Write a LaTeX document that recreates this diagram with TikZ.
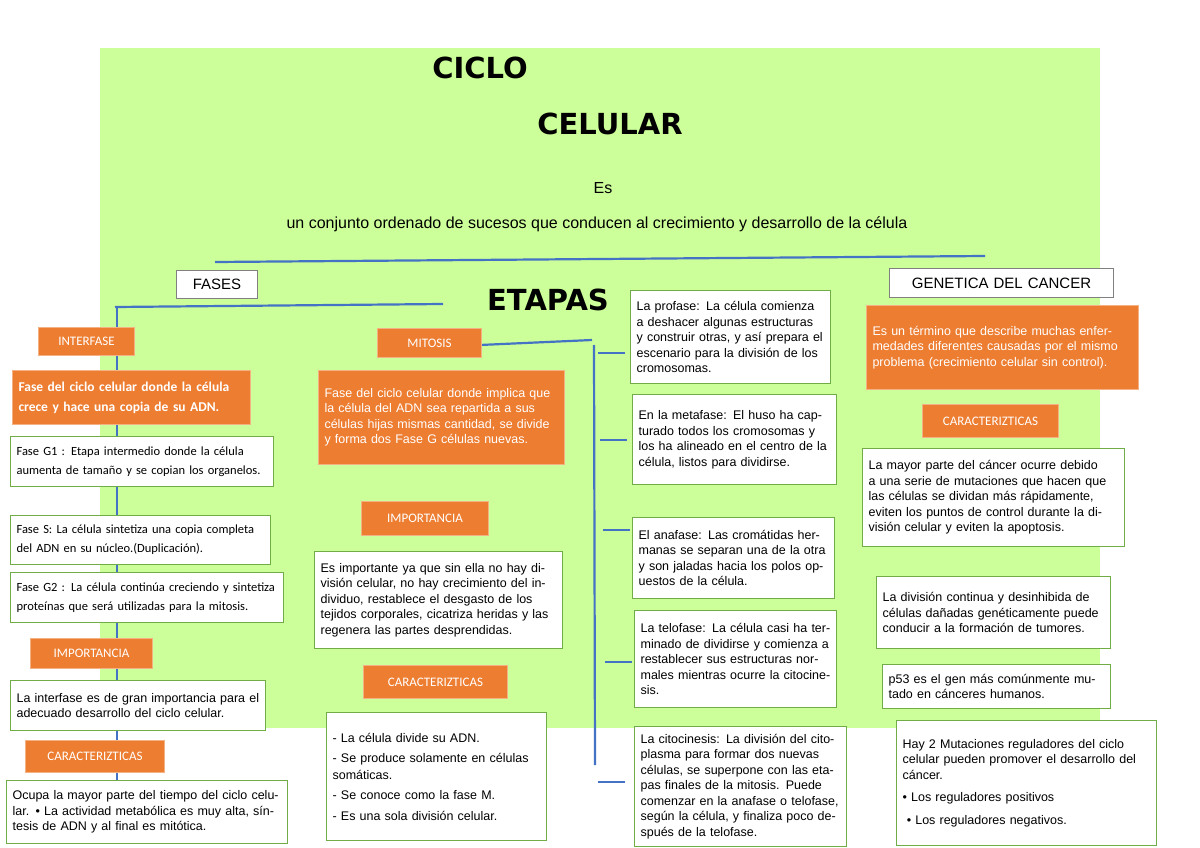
\documentclass[tikz,border=0pt]{standalone}
\usepackage{fontspec}
\setmainfont{Liberation Sans}
\newfontfamily\calf{Carlito}
\newfontfamily\heavy{DejaVu Sans}
\definecolor{bg}{HTML}{CCFF99}
\definecolor{bl}{HTML}{4472C4}
\definecolor{orn}{HTML}{ED7D31}
\definecolor{grn}{HTML}{70AD47}
\newcommand{\bx}[7]{\node[#2,anchor=north west,text width=#5pt-12pt,minimum height=#6pt,inner sep=6pt] (#1) at (#3,#4) {\hyphenpenalty=10000\exhyphenpenalty=10000 #7};}
\tikzset{
 wb/.style={draw=grn,line width=1.2pt,fill=white,align=left,font=\fontsize{12.5}{15.5}\selectfont},
 wbc/.style={wb,font=\calf\fontsize{12.5}{19}\selectfont},
 ob/.style={draw=orn!60,line width=1pt,fill=orn,text=white,align=left,font=\fontsize{12.5}{15.5}\selectfont},
 lab/.style={draw=orn!60,line width=1pt,fill=orn,text=white,align=center,font=\calf\fontsize{13}{15}\selectfont},
 gb/.style={draw=gray,line width=1pt,fill=white,align=center,font=\fontsize{15}{17}\selectfont},
 bline/.style={draw=bl,line width=2.2pt},
 ttl/.style={font=\heavy\fontsize{29}{34}\bfseries\selectfont}
}
\begin{document}
\begin{tikzpicture}[x=1pt,y=-1pt]
\useasboundingbox (0,0) rectangle (1200,848);
\fill[white] (0,0) rectangle (1200,848);
\fill[bg] (100,48) rectangle (1100,728);
\node[ttl] (t1) at (480,68) {CICLO};
\node[ttl] (t2) at (610,124) {CELULAR};
\node[ttl] (t3) at (548,300) {ETAPAS};
\node[font=\fontsize{16}{19}\selectfont] (es) at (603,188) {Es};
\node[font=\fontsize{16}{19}\selectfont] (def) at (597,224) {un conjunto ordenado de sucesos que conducen al crecimiento y desarrollo de la célula};
\coordinate (h1) at (215,262); \coordinate (h2) at (985,256);
\draw[bline] (h1) -- (h2);
% left spine
\coordinate (l0) at (115,307); \coordinate (l1) at (443,304); \coordinate (l2) at (117,307); \coordinate (l3) at (117,790);
\draw[bline] (l0) -- (l1);
\draw[bline] (l2) -- (l3);
% middle spine
\coordinate (m0) at (480,345); \coordinate (m1) at (592,340); \coordinate (m2) at (594,345); \coordinate (m3) at (595,765);
\draw[bline] (m0) -- (m1);
\draw[bline] (m2) -- (m3);
\foreach \y/\xa in {353/598,440/600,530/603,662/605,782/598}{
 \coordinate (ta\y) at (\xa,\y); \coordinate (tb\y) at (\xa+27,\y);
 \draw[bline] (ta\y) -- (tb\y);}
\bx{fases}{gb}{176}{270}{81}{28}{FASES}
\bx{gen}{gb}{889}{268}{224}{29}{GENETICA DEL CANCER}
% left column
\bx{inter}{lab}{38}{327}{96}{28}{INTERFASE}
\bx{fdef}{ob,font=\calf\bfseries\fontsize{13.5}{20}\selectfont}{12}{370}{238}{54}{Fase del ciclo celular donde la célula crece y hace una copia de su ADN.}
\bx{g1}{wbc}{10}{436}{263}{50}{Fase G1 : Etapa intermedio donde la célula aumenta de tamaño y se copian los organelos.}
\bx{s}{wbc}{10}{515}{260}{49}{Fase S: La célula sintetiza una copia completa del ADN en su núcleo.(Duplicación).}
\bx{g2}{wbc}{10}{572}{273}{50}{Fase G2 : La célula continúa creciendo y sintetiza proteínas que será utilizadas para la mitosis.}
\bx{imp1}{lab}{30}{638}{122}{30}{IMPORTANCIA}
\bx{impt1}{wb}{10}{680}{255}{50}{La interfase es de gran importancia para el adecuado desarrollo del ciclo celular.}
\bx{car1}{lab}{25}{740}{139}{32}{CARACTERIZTICAS}
\bx{cart1}{wb}{6}{780}{281}{63}{Ocupa la mayor parte del tiempo del ciclo celular. • La actividad metabólica es muy alta, síntesis de ADN y al final es mitótica.}
% middle column
\bx{mit}{lab}{377}{328}{104}{29}{MITOSIS}
\bx{mdef}{ob}{318}{370}{246}{94}{Fase del ciclo celular donde  implica que la célula del ADN sea repartida a sus células hijas mismas cantidad, se divide y forma dos Fase G células nuevas.}
\bx{imp2}{lab}{361}{501}{127}{34}{IMPORTANCIA}
\bx{impt2}{wb}{314}{551}{248}{97}{Es importante ya que sin ella no hay división celular, no hay crecimiento del individuo, restablece el desgasto de los tejidos corporales, cicatriza heridas y las regenera las partes desprendidas.}
\bx{car2}{lab}{363}{665}{144}{33}{CARACTERIZTICAS}
\bx{cart2}{wb,font=\fontsize{12.5}{16.5}\selectfont}{326}{712}{220}{128}{- La célula divide su ADN.\\[4pt]- Se produce solamente en células somáticas.\\[4pt]- Se conoce como la fase M.\\[4pt]- Es una sola división celular.}
% phases
\bx{p1}{wb}{630}{290}{200}{93}{La profase: La célula comienza a deshacer algunas estructuras y construir otras, y así prepara el escenario para la división de los cromosomas.}
\bx{p2}{wb}{632}{394}{204}{90}{En la metafase: El huso ha capturado todos los cromosomas y los ha alineado en el centro de la célula, listos para dividirse.}
\bx{p3}{wb}{632}{517}{202}{81}{El anafase: Las cromátidas hermanas se separan una de la otra y son jaladas hacia los polos opuestos de la célula.}
\bx{p4}{wb}{634}{610}{202}{97}{La telofase: La célula casi ha terminado de dividirse y comienza a restablecer sus estructuras normales mientras ocurre la citocinesis.}
\bx{p5}{wb}{634}{726}{212}{120}{La citocinesis: La división del citoplasma para formar dos nuevas células, se superpone con las etapas finales de la mitosis. Puede comenzar en la anafase o telofase, según la célula, y finaliza poco después de la telofase.}
% right column
\bx{gdef}{ob}{866}{305}{272}{84}{Es un término que describe muchas enfermedades diferentes causadas por el mismo problema (crecimiento celular sin control).}
\bx{car3}{lab}{922}{404}{136}{33}{CARACTERIZTICAS}
\bx{r1}{wb}{862}{448}{262}{98}{La mayor parte del cáncer ocurre debido a una serie de mutaciones que hacen que las células se dividan más rápidamente, eviten los puntos de control durante la división celular y eviten la apoptosis.}
\bx{r2}{wb}{876}{576}{234}{72}{La división continua y desinhibida de células dañadas genéticamente puede conducir a la formación de tumores.}
\bx{r3}{wb}{882}{664}{228}{44}{p53 es el gen más comúnmente mutado en cánceres humanos.}
\bx{r4}{wb}{896}{720}{260}{125}{Hay 2 Mutaciones reguladores del ciclo celular pueden promover el desarrollo del cáncer.\\[7pt]• Los reguladores positivos\\[7pt]\ • Los reguladores negativos.}
\end{tikzpicture}
\end{document}
